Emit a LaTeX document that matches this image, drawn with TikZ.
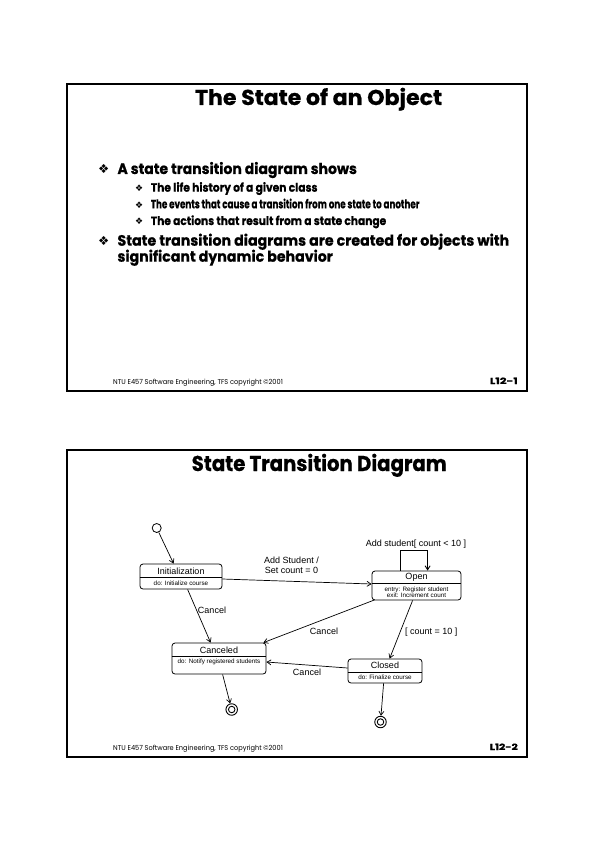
\documentclass[tikz,border=0pt]{standalone}
\usepackage{fontspec}
\usepackage{graphicx}
\usetikzlibrary{arrows.meta,calc}
\setmainfont{Liberation Sans}
\newfontfamily\slidefont{Poppins}[BoldFeatures={FakeBold=0.6}]
\newfontfamily\symfont{DejaVu Sans}
\newcommand\fitto[2]{\setbox0=\hbox{#2}\pgfmathsetmacro\fitsx{#1/\the\wd0}\scalebox{\fitsx}[1]{\box0}}
\newcommand\fitmain[2]{\fitto{#1}{\slidefont\bfseries\fontsize{15}{18}\selectfont #2}}
\newcommand\fitsub[2]{\fitto{#1}{\slidefont\bfseries\fontsize{12}{14}\selectfont #2}}
\newcommand\fittitle[2]{\fitto{#1}{\slidefont\bfseries\fontsize{21.5}{24}\selectfont #2}}
\newcommand\fitfoot[2]{\fitto{#1}{\slidefont\fontsize{7}{8}\selectfont #2}}
\newcommand\fitpage[2]{\fitto{#1}{\slidefont\bfseries\fontsize{8.6}{10}\selectfont #2}}
\begin{document}
\begin{tikzpicture}[x=1pt,y=-1pt,
  frame/.style={draw=black,line width=1.5pt},
  stbox/.style={draw,rounded corners=3pt,line width=0.8pt,inner sep=0pt},
  divider/.style={line width=0.6pt},
  sttitle/.style={font=\fontsize{9}{10}\selectfont,inner sep=0pt},
  stbody/.style={font=\fontsize{6.3}{6.5}\selectfont,inner sep=0pt,align=center},
  lbl/.style={font=\fontsize{9}{10}\selectfont,inner sep=0pt,align=center},
  tr/.style={-{Straight Barb[length=4pt,width=5pt]},line width=0.7pt},
  txt/.style={anchor=base west,inner sep=0pt},
  pseudo/.style={draw,circle,inner sep=0pt,line width=0.8pt},
  bul/.style={anchor=base west,inner sep=0pt,font=\symfont\fontsize{12.5}{13}\selectfont},
  sbul/.style={anchor=base west,inner sep=0pt,font=\symfont\fontsize{9}{10}\selectfont},
]
\useasboundingbox[fill=white] (0,0) rectangle (595,842);

% ---------- slide 1 ----------
\draw[frame] (67,84) rectangle (527,391);
\node[anchor=base,inner sep=0pt] (title1) at (318.5,105) {\fittitle{247}{The State of an Object}};
\node[bul] (b1) at (98,174) {❖};
\node[txt] (t1) at (117.3,174) {\fitmain{239.4}{A state transition diagram shows}};
\node[sbul] (sb1) at (135,191.7) {❖};
\node[txt] (s1) at (150.7,191.7) {\fitsub{166.6}{The life history of a given class}};
\node[sbul] (sb2) at (135,208.3) {❖};
\node[txt] (s2) at (150.7,208.3) {\fitsub{268.6}{The events that cause a transition from one state to another}};
\node[sbul] (sb3) at (135,225) {❖};
\node[txt] (s3) at (150.7,225) {\fitsub{235.3}{The actions that result from a state change}};
\node[bul] (b2) at (98,245.7) {❖};
\node[txt] (t2) at (117.3,245.7) {\fitmain{391.7}{State transition diagrams are created for objects with}};
\node[txt] (t3) at (117.3,261.7) {\fitmain{215.4}{significant dynamic behavior}};
\node[txt] (foot1) at (113,384) {\fitfoot{169.7}{NTU E457 Software Engineering, TFS copyright ©2001}};
\node[anchor=base east,inner sep=0pt] (page1) at (518,384) {\fitpage{28}{L12-1}};

% ---------- slide 2 ----------
\draw[frame] (67,450) rectangle (527,757);
\node[anchor=base,inner sep=0pt] (title2) at (319.2,471) {\fittitle{255}{State Transition Diagram}};
\node[txt] (foot2) at (113,750) {\fitfoot{169.7}{NTU E457 Software Engineering, TFS copyright ©2001}};
\node[anchor=base east,inner sep=0pt] (page2) at (518,750) {\fitpage{28}{L12-2}};

% states
\node[stbox,minimum width=82pt,minimum height=25pt] (ini) at (181,576.5) {};
\draw[divider] ([yshift=-1pt]ini.west) -- ([yshift=-1pt]ini.east);
\node[sttitle] (iniT) at (181,571) {Initialization};
\node[stbody] (iniB) at (181,583.5) {do: Initialize course};

\node[stbox,minimum width=89pt,minimum height=29pt] (open) at (416.5,585.5) {};
\draw[divider] ([yshift=2.5pt]open.west) -- ([yshift=2.5pt]open.east);
\node[sttitle] (openT) at (416.5,577) {Open};
\node[stbody] (openB) at (416.5,592.3) {entry: Register student\\exit: Increment count};

\node[stbox,minimum width=94pt,minimum height=31pt] (canc) at (219,658.5) {};
\draw[divider] ([yshift=2.5pt]canc.west) -- ([yshift=2.5pt]canc.east);
\node[sttitle] (cancT) at (219,650) {Canceled};
\node[stbody] (cancB) at (219,662) {do: Notify registered students};

\node[stbox,minimum width=74pt,minimum height=24pt] (clos) at (385,671) {};
\draw[divider] ([yshift=-1pt]clos.west) -- ([yshift=-1pt]clos.east);
\node[sttitle] (closT) at (385,665.5) {Closed};
\node[stbody] (closB) at (385,677.5) {do: Finalize course};

% pseudo states
\node[pseudo,minimum size=9pt] (start) at (156.7,528) {};
\node[pseudo,minimum size=11.5pt,line width=0.9pt] (endA) at (231.7,709.5) {};
\node[pseudo,minimum size=6.5pt,line width=0.9pt] (endAin) at (endA) {};
\node[pseudo,minimum size=11.5pt,line width=0.9pt] (endB) at (380.5,722) {};
\node[pseudo,minimum size=6.5pt,line width=0.9pt] (endBin) at (endB) {};

% transitions
\draw[tr] (start) -- ([xshift=34pt]ini.north west);
\draw[tr] ([yshift=-2.5pt]ini.east) -- ([yshift=1.5pt]open.west);
\draw[tr] ([xshift=48pt]ini.south west) -- ([xshift=39pt]canc.north west);
\draw[tr] ([xshift=3pt,yshift=0.5pt]open.south west) -- ([xshift=-3pt]canc.north east);
\draw[tr] ([xshift=41pt]open.south west) -- ([xshift=42pt]clos.north west);
\draw[tr] ([yshift=3pt]clos.west) -- ([yshift=-3.5pt]canc.east);
\draw[tr] ([xshift=51pt]canc.south west) -- (endA);
\draw[tr] ([xshift=36pt]clos.south west) -- (endB);
\draw[tr,line width=0.9pt] ([xshift=29pt]open.north west) -- ++(0,-20) -| ([xshift=56pt]open.north west);

% labels
\node[lbl] (l1) at (291.5,565.5) {Add Student /\\Set count = 0};
\node[lbl] (l2) at (416,544.5) {Add student[ count < 10 ]};
\node[lbl] (l3) at (212,610.5) {Cancel};
\node[lbl] (l4) at (324,631) {Cancel};
\node[lbl] (l5) at (431.3,632) {[ count = 10 ]};
\node[lbl] (l6) at (307,672.7) {Cancel};
\end{tikzpicture}
\end{document}
